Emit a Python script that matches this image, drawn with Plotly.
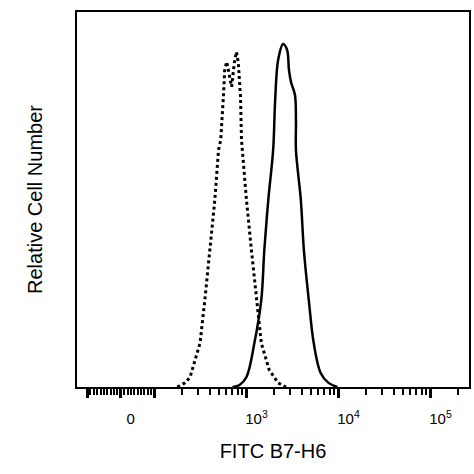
import numpy as np
import plotly.graph_objects as go

# FITC intensities and relative counts (peak = 100)
isotype_fitc = [177, 215, 244, 313, 353, 400, 453, 497, 525, 561, 580, 610,
                652, 690, 738, 779, 815, 862, 883, 1000, 1132, 1282, 1449, 1766, 2208, 2692]
isotype_count = [0, 1.2, 2.9, 12.8, 25.4, 39.9, 54.5, 69.1, 72.0, 84.5, 92.4, 94.8,
                 91.0, 87.5, 94.5, 97.7, 94.5, 84.5, 72.0, 54.5, 39.9, 25.4, 12.8, 5.0, 1.2, 0]

b7h6_fitc = [706, 841, 1000, 1219, 1449, 1563, 1726, 1950, 2051, 2208, 2500, 2761,
             2897, 3048, 3365, 3451, 3451, 3899, 4207, 4753, 5383, 6397, 7798, 9750]
b7h6_count = [0, 0.6, 2.9, 12.8, 25.4, 39.9, 54.5, 69.1, 83.7, 95.3, 100, 98.3,
              92.4, 88.9, 85.1, 77.8, 69.1, 54.5, 39.9, 25.4, 12.8, 4.1, 1.2, 0]

major_vals = [-100, 0, 100, 1000, 10000, 100000]
major_text = ["", "0", "", "10<sup>3</sup>", "10<sup>4</sup>", "10<sup>5</sup>"]
minor_vals = ([-v for v in range(10, 100, 10)] + list(range(10, 100, 10))
              + [k * 10 ** n for n in (2, 3, 4) for k in range(2, 10)] + [200000])
x_limits = [-130, 262144]

ZERO_POS = 1.634  # display position of 0 (in decades)


def biex(v):
    # linear around zero, log10 above 100
    v = np.asarray(v, dtype=float)
    lin = ZERO_POS + v / 100.0 * (2 - ZERO_POS)
    return np.where(v >= 100, np.log10(np.clip(v, 1e-9, None)), lin)


fig = go.Figure()
fig.add_trace(go.Scatter(x=biex(isotype_fitc), y=isotype_count, mode="lines",
                         line=dict(color="black", width=3, dash="dot"), showlegend=False))
fig.add_trace(go.Scatter(x=biex(b7h6_fitc), y=b7h6_count, mode="lines",
                         line=dict(color="black", width=2.5, shape="spline"), showlegend=False))

fig.update_layout(
    width=474, height=474,
    margin=dict(l=77, r=3, t=12, b=87),
    plot_bgcolor="white", paper_bgcolor="white",
    font=dict(family="Liberation Sans, Arial, sans-serif", color="black"),
)
fig.update_xaxes(
    range=list(biex(x_limits)), showgrid=False, zeroline=False,
    showline=True, mirror=True, linecolor="black", linewidth=2,
    tickmode="array", tickvals=list(biex(major_vals)), ticktext=major_text,
    ticks="outside", ticklen=9, tickwidth=3, tickcolor="black",
    ticklabelstandoff=8, ticklabelshift=10, tickfont=dict(size=15),
    minor=dict(tickmode="array", tickvals=list(biex(minor_vals)),
               ticks="outside", ticklen=6, tickwidth=2, tickcolor="black"),
    title=dict(text="FITC B7-H6", font=dict(size=20), standoff=18),
)
fig.update_yaxes(
    range=[0, 109.3], showgrid=False, zeroline=False,
    showline=True, mirror=True, linecolor="black", linewidth=2,
    showticklabels=False, ticks="",
    title=dict(text="Relative Cell Number", font=dict(size=20), standoff=27),
)

fig.write_html("out.html", config={"displayModeBar": False},
               post_script="document.body.style.margin='0';")
